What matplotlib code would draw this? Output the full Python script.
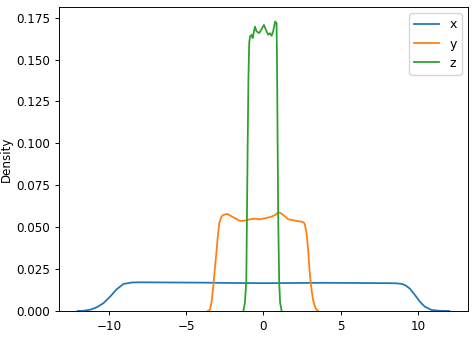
import matplotlib
matplotlib.use("Agg")
from matplotlib import pyplot as plt

# density curves (position, density)
x_pos = [-12.04, -11.66, -11.2, -10.8, -10.37, -9.94, -9.5, -9.07, -8.53, -8.0,
         -6.0, -4.0, -2.0, 0.0, 2.0, 4.0, 6.0, 8.0, 8.6, 8.95, 9.2, 9.48, 9.81,
         10.13, 10.45, 10.89, 11.42, 12.04]
x_den = [0.0, 0.0001, 0.0008, 0.0022, 0.0046, 0.0085, 0.013, 0.0161, 0.0170, 0.0171,
         0.0170, 0.0169, 0.0167, 0.0166, 0.0167, 0.0168, 0.0167, 0.0166, 0.0165, 0.0162,
         0.0153, 0.0134, 0.0096, 0.0056, 0.0026, 0.0006, 0.0001, 0.0]

y_pos = [-3.6, -3.46, -3.35, -3.25, -3.15, -3.07, -2.96, -2.86, -2.72, -2.6, -2.34,
         -1.95, -1.52, -1.2, -0.87, -0.55, -0.23, 0.1, 0.53, 0.8, 0.96, 1.1, 1.28,
         1.61, 2.04, 2.47, 2.62, 2.69, 2.78, 2.84, 2.91, 2.97, 3.05, 3.12, 3.2, 3.27,
         3.4, 3.55]
y_den = [0.0, 0.0008, 0.006, 0.0145, 0.025, 0.0324, 0.044, 0.0524, 0.0562, 0.0573,
         0.0579, 0.0559, 0.0537, 0.0539, 0.0547, 0.0551, 0.0547, 0.0553, 0.0563, 0.0575,
         0.0589, 0.0585, 0.0573, 0.0547, 0.0539, 0.0533, 0.0528, 0.0513, 0.047, 0.0424,
         0.035, 0.0265, 0.018, 0.0125, 0.0075, 0.0046, 0.0012, 0.0]

z_pos = [-1.3, -1.2, -1.11, -1.07, -1.02, -0.97, -0.92, -0.87, -0.76, -0.70, -0.55,
         -0.44, -0.27, -0.12, 0.03, 0.16, 0.31, 0.42, 0.53, 0.63, 0.76, 0.85, 0.88,
         0.92, 0.96, 1.02, 1.08, 1.18]
z_den = [0.0, 0.005, 0.0175, 0.054, 0.10, 0.14, 0.16, 0.1638, 0.1648, 0.1628, 0.1697,
         0.1668, 0.1658, 0.1682, 0.1707, 0.1678, 0.1648, 0.1658, 0.1642, 0.1668, 0.1727,
         0.1718, 0.15, 0.10, 0.054, 0.0175, 0.005, 0.0]

labels = ["x", "y", "z"]
colors = ["tab:blue", "tab:orange", "tab:green"]

scale = 0.85
plt.rcParams["font.size"] = 8.6
plt.rcParams["axes.linewidth"] = 0.8 * scale
plt.rcParams["xtick.major.size"] = 3.5 * scale
plt.rcParams["ytick.major.size"] = 3.5 * scale
plt.rcParams["xtick.major.width"] = 0.8 * scale
plt.rcParams["ytick.major.width"] = 0.8 * scale

fig, ax = plt.subplots(figsize=(4.74, 3.38), dpi=100)
fig.subplots_adjust(left=0.1245, right=0.987, bottom=0.080, top=0.979)

for xs, ys, lab, col in zip([x_pos, y_pos, z_pos], [x_den, y_den, z_den], labels, colors):
    ax.plot(xs, ys, color=col, label=lab, linewidth=1.5 * scale)

ax.set_ylim(bottom=0)
ax.set_ylabel("Density", labelpad=2)
ax.legend(loc="upper right", fontsize=9)

fig.savefig("out.png", dpi=100)
